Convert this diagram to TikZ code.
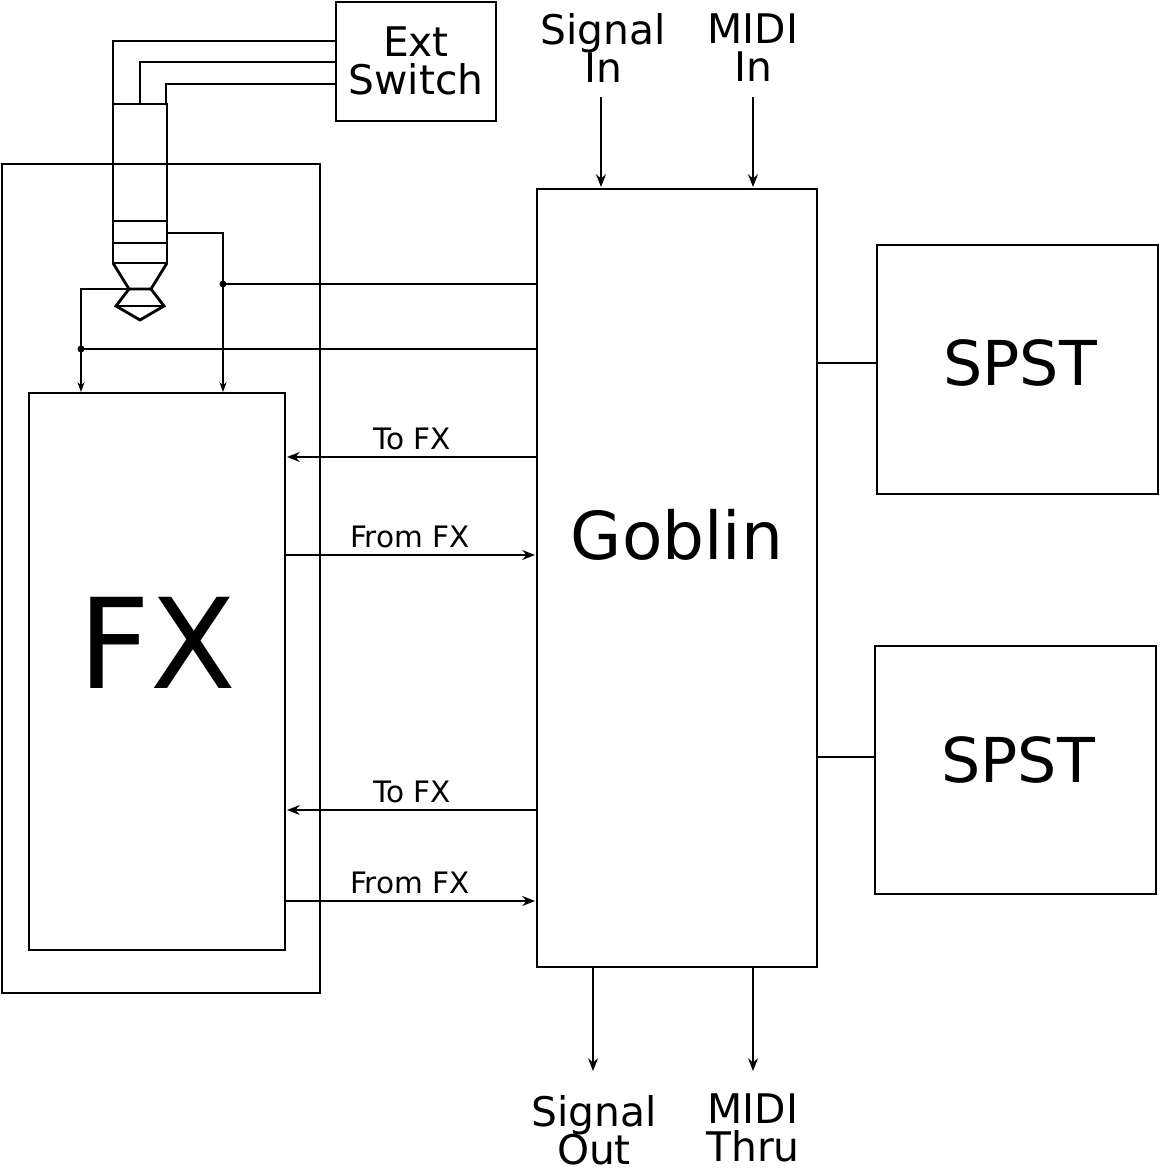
\documentclass[tikz,border=0pt]{standalone}
\usepackage{fontspec}
\setmainfont{DejaVu Sans}
\usetikzlibrary{arrows.meta}

\tikzset{
  blk/.style={draw, line width=2pt},
  wire/.style={line width=1pt},
  sig/.style={line width=1.6pt, -{Stealth[length=9pt,width=7pt]}},
  lbl/.style={font=\fontsize{21}{24}\selectfont},
  io/.style={font=\fontsize{29}{33}\selectfont, align=center}
}

\begin{document}
\begin{tikzpicture}[x=0.025cm, y=-0.025cm]
  \useasboundingbox (0,0) rectangle (1160,1174);

  % Gehaeuse und Bloecke
  \draw[blk] (2,164) rectangle (320,993);
  \draw[blk] (29,393) rectangle (285,950);
  \node at (157,643) {\fontsize{89}{90}\selectfont FX};
  \draw[blk] (537,189) rectangle (817,967);
  \node (goblin) at (677,535) {\fontsize{47}{50}\selectfont Goblin};
  \draw[blk] (877,245) rectangle (1158,494);
  \node at (1020,363) {\fontsize{44}{46}\selectfont SPST};
  \draw[blk] (875,646) rectangle (1156,894);
  \node at (1018,760) {\fontsize{44}{46}\selectfont SPST};
  \draw[blk] (336,2) rectangle (496,121);
  \node[io] at (416,61) {Ext\\[-6pt]Switch};

  % Klinke
  \draw[blk] (113,104) rectangle (167,263);
  \draw[blk] (113,221) -- (167,221) (113,243) -- (167,243);
  \draw[blk] (113,263) -- (129,289) -- (151,289) -- (167,263);
  \draw[blk] (129,289) -- (116,306) -- (140,320) -- (164,306) -- (151,289);
  \draw[blk] (116,306) -- (164,306);

  % Kabel zum Schalter
  \draw[wire] (113,104) |- (336,41);
  \draw[wire] (140,104) |- (336,62);
  \draw[wire] (166,104) |- (336,84);

  % Ring und Spitze
  \draw[wire, -{Stealth[length=7pt,width=5pt]}] (167,233) -| (223,392);
  \draw[wire, -{Stealth[length=7pt,width=5pt]}] (129,289) -| (81,392);
  \fill (223,284) circle (3.5) (81,349) circle (3.5);
  \draw[line width=1.6pt] (223,284) -- (537,284);
  \draw[line width=1.6pt] (81,349) -- (537,349);

  % Effektschleifen
  \foreach \y/\z in {457/555, 810/901}{
    \draw[sig] (537,\y) -- (287,\y) node[lbl, midway, above=1pt] {To FX};
    \draw[sig] (285,\z) -- (535,\z) node[lbl, midway, above=1pt] {From FX};
  }
  \draw[line width=1.6pt] (817,363) -- (877,363);
  \draw[line width=1.6pt] (817,757) -- (875,757);

  % Ein- und Ausgaenge
  \draw[sig] (601,97) -- (601,187);
  \node[io] at (603,48) {Signal\\[-6pt]In};
  \draw[sig] (753,97) -- (753,187);
  \node[io] at (753,48) {MIDI\\[-6pt]In};
  \draw[sig] (593,967) -- (593,1071);
  \node[io] at (594,1130) {Signal\\[-6pt]Out};
  \draw[sig] (753,967) -- (753,1071);
  \node[io] at (753,1128) {MIDI\\[-6pt]Thru};
\end{tikzpicture}
\end{document}
